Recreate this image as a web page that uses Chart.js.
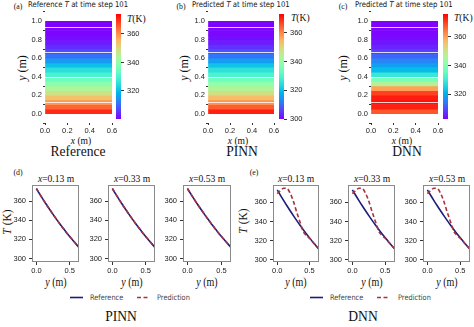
<!DOCTYPE html>
<html lang="en">
<head>
<meta charset="UTF-8">
<meta name="viewport" content="width=device-width, initial-scale=1.0">
<title>Temperature at time step 101 - PINN vs DNN</title>
<script src="https://cdn.jsdelivr.net/npm/chart.js@4.4.1/dist/chart.umd.min.js"></script>
<style>
  body { margin: 0; width: 474px; height: 327px; position: relative; overflow: hidden; background: #fff; }
  canvas { position: absolute; }
  .t { position: absolute; white-space: nowrap; line-height: 1; color: #111; }
  .serif { font-family: "Liberation Serif", "Times New Roman", serif; }
  .sans { font-family: "DejaVu Sans", sans-serif; }
  .c { transform: translate(-50%, -50%) scaleX(0.87); }
  .l { transform-origin: 0 50%; transform: translateY(-50%) scaleX(0.87); }
  .v { transform: translate(-50%, -50%) rotate(-90deg); }
  .ov { font-style: italic; text-decoration: overline; }
  .leg { color: #444; font-size: 7.6px; }
  svg { position: absolute; left: 0; top: 0; }
</style>
</head>
<body>

<!-- top row: 2-D fields -->
<div class="t serif c" style="left:17.5px;top:6px;font-size:9px">(a)</div>
<div class="t sans l" style="left:28px;top:4.5px;font-size:7.9px">Reference <span class="ov">T</span> at time step 101</div>
<div class="t serif c" style="left:181px;top:6px;font-size:9px">(b)</div>
<div class="t sans l" style="left:191.5px;top:4.5px;font-size:7.9px">Predicted <span class="ov">T</span> at time step 101</div>
<div class="t serif c" style="left:342.5px;top:6px;font-size:9px">(c)</div>
<div class="t sans l" style="left:355px;top:4.5px;font-size:7.9px">Predicted <span class="ov">T</span> at time step 101</div>

<div class="t serif l" style="left:127px;top:17.5px;font-size:11px"><i>T</i>(K)</div>
<div class="t serif l" style="left:290.5px;top:17px;font-size:11px"><i>T</i>(K)</div>
<div class="t serif l" style="left:454px;top:17px;font-size:11px"><i>T</i>(K)</div>

<div class="t serif v" style="left:21.5px;top:68px;font-size:12px"><i>y</i> (m)</div>
<div class="t serif v" style="left:183.5px;top:68px;font-size:12px"><i>y</i> (m)</div>
<div class="t serif v" style="left:342.5px;top:68px;font-size:12px"><i>y</i> (m)</div>

<div class="t serif c" style="left:81px;top:140px;font-size:11px"><i>x</i> (m)</div>
<div class="t serif c" style="left:238px;top:140px;font-size:11px"><i>x</i> (m)</div>
<div class="t serif c" style="left:402px;top:140px;font-size:11px"><i>x</i> (m)</div>

<div class="t serif c" style="left:77.5px;top:151px;font-size:15.6px">Reference</div>
<div class="t serif c" style="left:241.5px;top:151px;font-size:15.6px">PINN</div>
<div class="t serif c" style="left:406.5px;top:151px;font-size:15.6px">DNN</div>

<!-- bottom row: profiles along y -->
<div class="t serif c" style="left:17.5px;top:172px;font-size:9px">(d)</div>
<div class="t serif c" style="left:253.5px;top:172px;font-size:9px">(e)</div>

<div class="t serif c" style="left:55.5px;top:178px;font-size:11px"><i>x</i>=0.13 m</div>
<div class="t serif c" style="left:131.5px;top:178px;font-size:11px"><i>x</i>=0.33 m</div>
<div class="t serif c" style="left:207px;top:178px;font-size:11px"><i>x</i>=0.53 m</div>
<div class="t serif c" style="left:296px;top:178px;font-size:11px"><i>x</i>=0.13 m</div>
<div class="t serif c" style="left:371.5px;top:178px;font-size:11px"><i>x</i>=0.33 m</div>
<div class="t serif c" style="left:446.5px;top:178px;font-size:11px"><i>x</i>=0.53 m</div>

<div class="t serif v" style="left:7.5px;top:222px;font-size:11.5px"><i>T</i> (K)</div>
<div class="t serif v" style="left:243.5px;top:221px;font-size:11.5px"><i>T</i> (K)</div>

<div class="t serif c" style="left:55.5px;top:283px;font-size:11.5px"><i>y</i> (m)</div>
<div class="t serif c" style="left:131.5px;top:283px;font-size:11.5px"><i>y</i> (m)</div>
<div class="t serif c" style="left:207px;top:283px;font-size:11.5px"><i>y</i> (m)</div>
<div class="t serif c" style="left:296px;top:283px;font-size:11.5px"><i>y</i> (m)</div>
<div class="t serif c" style="left:371.5px;top:283px;font-size:11.5px"><i>y</i> (m)</div>
<div class="t serif c" style="left:446.5px;top:283px;font-size:11.5px"><i>y</i> (m)</div>

<svg width="474" height="327">
  <line x1="70" y1="297.5" x2="83" y2="297.5" stroke="#1c1c7a" stroke-width="1.6"/>
  <line x1="137" y1="297.5" x2="150" y2="297.5" stroke="#a8323e" stroke-width="1.6" stroke-dasharray="4,2.5"/>
  <line x1="310" y1="297.5" x2="323" y2="297.5" stroke="#1c1c7a" stroke-width="1.6"/>
  <line x1="377" y1="297.5" x2="390" y2="297.5" stroke="#a8323e" stroke-width="1.6" stroke-dasharray="4,2.5"/>
</svg>
<div class="t sans l leg" style="left:89.5px;top:297.5px">Reference</div>
<div class="t sans l leg" style="left:157px;top:297.5px">Prediction</div>
<div class="t sans l leg" style="left:329.5px;top:297.5px">Reference</div>
<div class="t sans l leg" style="left:397.5px;top:297.5px">Prediction</div>

<div class="t serif c" style="left:120.5px;top:316px;font-size:15.6px">PINN</div>
<div class="t serif c" style="left:362.5px;top:316px;font-size:15.6px">DNN</div>

<script>
// temperature bands of the 2-D fields, band centres in y (m)
const bandY = [0.025, 0.075, 0.125, 0.175, 0.225, 0.275, 0.325, 0.375, 0.425, 0.475,
               0.525, 0.575, 0.625, 0.675, 0.725, 0.775, 0.825, 0.875, 0.925, 0.975];
const refField  = [370.1, 364.5, 359.1, 353.8, 348.6, 343.6, 338.8, 334.1, 329.5, 325.1,
                   320.5, 315.5, 311.0, 307.5, 304.5, 302.5, 301.3, 300.7, 300.4, 300.3];
const pinnField = [370.3, 364.6, 359.0, 353.7, 348.5, 343.7, 338.9, 334.0, 329.4, 325.0,
                   320.4, 315.6, 311.1, 307.6, 304.6, 302.4, 301.2, 300.6, 300.3, 300.2];
const dnnField  = [368.0, 373.0, 374.5, 373.5, 370.0, 360.0, 347.0, 338.0, 329.0, 322.0,
                   318.5, 315.5, 312.0, 308.5, 306.0, 304.5, 303.5, 303.0, 302.8, 302.7];

// colour limits of each field
const refRange  = [300.3, 374.0];
const pinnRange = [300.0, 373.2];
const dnnRange  = [302.6, 376.0];

const seamLines = [0.2, 0.533, 0.867];
const fieldXTicks = [0, 0.2, 0.4, 0.6];
const fieldYTicks = [0, 0.2, 0.4, 0.6, 0.8, 1.0];
const cbarTicks = [320, 340, 360];
const cbarTicksPinn = [300, 320, 340, 360];

// temperature profiles along y
const profY = [0, 0.05, 0.1, 0.15, 0.2, 0.25, 0.3, 0.35, 0.4, 0.45, 0.5, 0.55, 0.6, 0.65];
const refT  = [373.0, 367.3, 361.8, 356.4, 351.2, 346.1, 341.2, 336.4, 331.8, 327.3, 323.0, 318.8, 314.8, 310.9];
const pinnT = [373.2, 367.4, 361.7, 356.3, 351.2, 346.2, 341.3, 336.4, 331.7, 327.2, 323.0, 318.9, 314.9, 311.0];
const dnnT  = [369.0, 372.2, 374.6, 374.4, 369.5, 361.0, 350.0, 340.0, 330.0, 325.5, 322.6, 318.8, 314.8, 310.9];
const profXTicks = [0, 0.5];
const profTTicks = [300, 320, 340, 360];

Chart.defaults.font.family = '"Liberation Sans", Arial, sans-serif';
Chart.defaults.font.size = 7.5;
Chart.defaults.color = '#222';
Chart.defaults.animation = false;
Chart.defaults.plugins.legend.display = false;
Chart.defaults.plugins.tooltip.enabled = false;

// matplotlib "rainbow"
function rainbow(t) {
  t = Math.min(1, Math.max(0, t));
  const r = Math.min(1, Math.abs(2 * t - 0.5));
  const g = Math.sin(Math.PI * t);
  const b = Math.cos(Math.PI * t / 2);
  return `rgb(${Math.round(r * 255)},${Math.round(g * 255)},${Math.round(b * 255)})`;
}

// canvas placed so that the plot area lands on `area` = [left, top, right, bottom]
function mount(area, m) {
  const cv = document.createElement('canvas');
  const w = area[2] - area[0] + m.l + m.r;
  const h = area[3] - area[1] + m.t + m.b;
  cv.width = w; cv.height = h;
  cv.style.width = w + 'px'; cv.style.height = h + 'px';
  cv.style.left = (area[0] - m.l) + 'px';
  cv.style.top = (area[1] - m.t) + 'px';
  document.body.appendChild(cv);
  return cv;
}

const setTicks = vals => s => { s.ticks = vals.map(v => ({ value: v })); };
const fixW = w => s => { s.width = w; s.paddingTop = 0; s.paddingBottom = 0; };
const fixH = h => s => { s.height = h; s.paddingLeft = 0; s.paddingRight = 0; };

function axis(min, max, vals, fmt, tick, pad, extra) {
  return Object.assign({
    type: 'linear', min, max,
    afterBuildTicks: setTicks(vals),
    ticks: { callback: fmt, padding: pad, autoSkip: false, maxRotation: 0 },
    grid: { drawOnChartArea: false, tickLength: tick, color: '#333' },
    border: { display: false }
  }, extra);
}

const frame = {
  id: 'frame',
  afterDatasetsDraw(chart) {
    const { ctx, chartArea: a } = chart;
    ctx.save();
    ctx.strokeStyle = '#8a8a8a';
    ctx.lineWidth = 1;
    ctx.strokeRect(a.left + 0.5, a.top + 0.5, a.right - a.left - 1, a.bottom - a.top - 1);
    ctx.restore();
  }
};

function fieldChart(area, temps, range) {
  const yW = 15, xH = 13, pad = { left: 2, right: 6, top: 5, bottom: 0 };
  const cv = mount(area, { l: yW + pad.left, r: pad.right, t: pad.top, b: xH });
  return new Chart(cv, {
    type: 'bar',
    data: {
      datasets: [{
        data: bandY.map(y => ({ x: [0, 0.6], y })),
        backgroundColor: temps.map(T => rainbow((T - range[0]) / (range[1] - range[0]))),
        borderWidth: 0,
        categoryPercentage: 1,
        barPercentage: 1,
        yAxisID: 'y'
      }]
    },
    options: {
      indexAxis: 'y',
      responsive: false,
      devicePixelRatio: 1,
      layout: { padding: pad, autoPadding: false },
      scales: {
        x: axis(0, 0.6, fieldXTicks, v => v.toFixed(1), 2, 1, { afterFit: fixH(xH) }),
        y: axis(0, 1, fieldYTicks, v => v.toFixed(1), 2, 1, { afterFit: fixW(yW) }),
        seam: {
          type: 'linear', position: 'right', min: 0, max: 1,
          afterBuildTicks: setTicks(seamLines),
          afterFit: fixW(0),
          ticks: { display: false },
          grid: { color: 'rgba(255,255,255,0.8)', lineWidth: 1, drawTicks: false, z: 1 },
          border: { display: false }
        }
      }
    }
  });
}

function cbarChart(area, range, ticks) {
  const yW = 20, pad = { left: 1, right: 0, top: 5, bottom: 5 };
  const cv = mount(area, { l: pad.left, r: yW, t: pad.top, b: pad.bottom });
  return new Chart(cv, {
    type: 'bar',
    data: {
      labels: [''],
      datasets: [{
        data: [range],
        backgroundColor(ctx) {
          const a = ctx.chart.chartArea;
          if (!a) return null;
          const g = ctx.chart.ctx.createLinearGradient(0, a.bottom, 0, a.top);
          for (let i = 0; i <= 20; i++) g.addColorStop(i / 20, rainbow(i / 20));
          return g;
        },
        borderWidth: 0,
        categoryPercentage: 1,
        barPercentage: 1
      }]
    },
    options: {
      responsive: false,
      devicePixelRatio: 1,
      layout: { padding: pad, autoPadding: false },
      scales: {
        x: { display: false },
        y: axis(range[0], range[1], ticks, v => v.toFixed(0), 3, 3,
                { position: 'right', afterFit: fixW(yW) })
      }
    }
  });
}

function profileChart(area, pred, tRange, xRange) {
  const yW = 18, xH = 12, pad = { left: 1, right: 5, top: 5, bottom: 0 };
  const cv = mount(area, { l: yW + pad.left, r: pad.right, t: pad.top, b: xH });
  const pts = arr => profY.map((y, i) => ({ x: y, y: arr[i] }));
  return new Chart(cv, {
    type: 'line',
    data: {
      datasets: [
        { label: 'Reference', data: pts(refT), borderColor: '#1c1c7a', borderWidth: 1.6,
          pointRadius: 0, cubicInterpolationMode: 'monotone', order: 1 },
        { label: 'Prediction', data: pts(pred), borderColor: '#a8323e', borderWidth: 1.6,
          borderDash: [4, 2.5], pointRadius: 0, cubicInterpolationMode: 'monotone', order: 0 }
      ]
    },
    options: {
      responsive: false,
      devicePixelRatio: 1,
      layout: { padding: pad, autoPadding: false },
      scales: {
        x: axis(xRange[0], xRange[1], profXTicks, v => v.toFixed(1), 3, 1, { afterFit: fixH(xH) }),
        y: axis(tRange[0], tRange[1], profTTicks, v => v.toFixed(0), 3, 3, { afterFit: fixW(yW) })
      }
    },
    plugins: [frame]
  });
}

fieldChart([45, 12, 112, 123], refField, refRange);
fieldChart([208, 12, 274, 123], pinnField, pinnRange);
fieldChart([371, 12, 438, 123], dnnField, dnnRange);

cbarChart([116, 14, 121, 119], refRange, cbarTicks);
cbarChart([279, 14, 284, 119], pinnRange, cbarTicksPinn);
cbarChart([443, 14, 448, 119], dnnRange, cbarTicks);

const pinnAxis = [296.4, 376.8], dnnAxis = [297.9, 378.0];
const pinnX = [-0.066, 0.64], dnnX = [-0.066, 0.647];
profileChart([32, 185, 79, 262], pinnT, pinnAxis, pinnX);
profileChart([108, 185, 155, 262], pinnT, pinnAxis, pinnX);
profileChart([183, 185, 231, 262], pinnT, pinnAxis, pinnX);
profileChart([273, 185, 319, 262], dnnT, dnnAxis, dnnX);
profileChart([348, 185, 395, 262], dnnT, dnnAxis, dnnX);
profileChart([423, 185, 470, 262], dnnT, dnnAxis, dnnX);
</script>
</body>
</html>
